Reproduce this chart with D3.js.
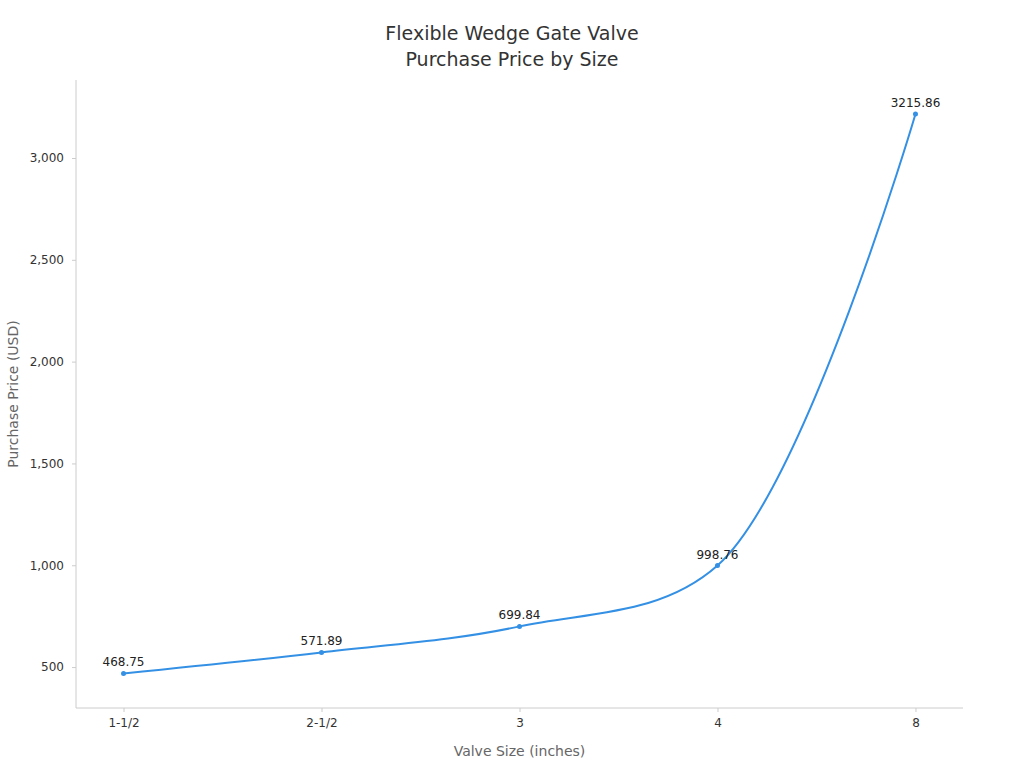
<!DOCTYPE html>
<html><head><meta charset="utf-8">
<script src="https://cdn.jsdelivr.net/npm/d3@7"></script>
<style>body{margin:0;background:#fff;font-family:"DejaVu Sans",sans-serif}</style>
</head><body>
<svg width="1024" height="768"></svg>
<script>
const sizes = ["1-1/2", "2-1/2", "3", "4", "8"];
const prices = [468.75, 571.89, 699.84, 998.76, 3215.86];
const yTicks = [500, 1000, 1500, 2000, 2500, 3000];

const svg = d3.select("svg");
const margin = { top: 80, right: 61, bottom: 60, left: 76 };
const width = 1024, height = 768;

const x = d3.scalePoint().domain(sizes).range([margin.left, width - margin.right]).padding(0.24);
const y = d3.scaleLinear().domain([299, 3383]).range([height - margin.bottom, margin.top]);

const axisColor = "#ccc";

// axes
const gx = svg.append("g").attr("transform", `translate(0,${height - margin.bottom})`)
  .call(d3.axisBottom(x).tickSize(4).tickPadding(6));
gx.select(".domain").attr("stroke", axisColor)
  .attr("d", `M${margin.left},0H${width - margin.right}`);
gx.selectAll("line").attr("stroke", axisColor);
gx.selectAll("text").attr("fill", "#333").attr("font-size", 12).attr("font-family", "DejaVu Sans");

const gy = svg.append("g").attr("transform", `translate(${margin.left},0)`)
  .call(d3.axisLeft(y).tickValues(yTicks).tickSize(4).tickPadding(8));
gy.select(".domain").attr("stroke", axisColor)
  .attr("d", `M0,${margin.top}V${height - margin.bottom}`);
gy.selectAll("line").attr("stroke", axisColor);
gy.selectAll("text").attr("fill", "#333").attr("font-size", 12).attr("font-family", "DejaVu Sans");

// line
const data = sizes.map((s, i) => ({ s, v: prices[i] }));
const line = d3.line().x(d => x(d.s)).y(d => y(d.v)).curve(d3.curveCatmullRom.alpha(0.5));
svg.append("path").datum(data).attr("d", line)
  .attr("fill", "none").attr("stroke", "#3490e4").attr("stroke-width", 2);

svg.selectAll("circle.pt").data(data).enter().append("circle")
  .attr("class", "pt").attr("cx", d => x(d.s)).attr("cy", d => y(d.v)).attr("r", 2.5)
  .attr("fill", "#3490e4");

svg.selectAll("text.lbl").data(data).enter().append("text")
  .attr("class", "lbl").attr("x", d => x(d.s)).attr("y", d => y(d.v) - 7)
  .attr("text-anchor", "middle").attr("font-size", 12).attr("fill", "#222")
  .text(d => d.v.toFixed(2));

// titles
svg.append("text").attr("x", 512).attr("y", 40).attr("text-anchor", "middle")
  .attr("font-size", 19).attr("fill", "#333").text("Flexible Wedge Gate Valve");
svg.append("text").attr("x", 512).attr("y", 66).attr("text-anchor", "middle")
  .attr("font-size", 19).attr("fill", "#333").text("Purchase Price by Size");

svg.append("text").attr("x", (margin.left + width - margin.right) / 2).attr("y", 756)
  .attr("text-anchor", "middle").attr("font-size", 14).attr("fill", "#666")
  .text("Valve Size (inches)");
svg.append("text").attr("transform", `translate(18,${(margin.top + height - margin.bottom) / 2}) rotate(-90)`)
  .attr("text-anchor", "middle").attr("font-size", 14).attr("fill", "#666")
  .text("Purchase Price (USD)");
</script>
</body></html>
